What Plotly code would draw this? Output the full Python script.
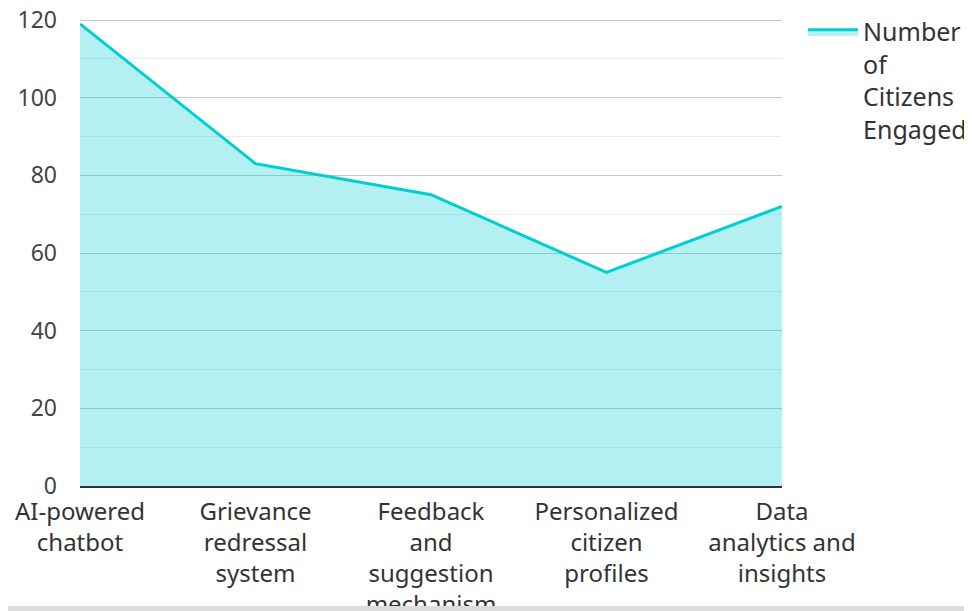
import plotly.graph_objects as go

categories = ["AI-powered<br>chatbot", "Grievance<br>redressal<br>system",
              "Feedback<br>and<br>suggestion<br>mechanism", "Personalized<br>citizen<br>profiles",
              "Data<br>analytics and<br>insights"]
citizens = [119, 83, 75, 55, 72]
series_name = "Number<br>of<br>Citizens<br>Engaged"
y_ticks = [0, 20, 40, 60, 80, 100, 120]

fig = go.Figure()
fig.add_trace(go.Scatter(
    x=categories, y=citizens, name=series_name, mode="lines",
    line=dict(color="#00CED1", width=3),
    fill="tozeroy", fillcolor="rgba(0,206,209,0.3)",
))

fig.update_layout(
    width=972, height=611,
    margin=dict(l=72, r=198, t=8, b=133, autoexpand=False),
    paper_bgcolor="white", plot_bgcolor="white",
    font=dict(family="Noto Sans, Open Sans, sans-serif", size=23, color="#444"),
    showlegend=True,
    legend=dict(x=1.03, y=1.015, xanchor="left", yanchor="top", valign="top",
                itemwidth=50,
                font=dict(size=25, color="#333"), bgcolor="rgba(0,0,0,0)"),
    xaxis=dict(range=[0, 4], showgrid=False, showline=True, linecolor="#333",
               linewidth=2, ticks="", automargin=False, ticklabelstandoff=3,
               tickfont=dict(size=24, color="#333")),
    yaxis=dict(range=[0, 121.03], tickvals=y_ticks, showgrid=True, gridcolor="#c8c8c8",
               gridwidth=1, zeroline=False, showline=False, automargin=False,
               ticklabeloverflow="allow",
               ticklabelstandoff=22, tickfont=dict(size=23, color="#444"),
               minor=dict(dtick=10, showgrid=True, gridcolor="#ebebeb", gridwidth=1)),
    shapes=[dict(type="rect", xref="paper", yref="paper", x0=-0.2, x1=1.3,
                 y0=-120 / 470, y1=-0.3, fillcolor="#dcdcdc", line=dict(width=0),
                 layer="above")],
)

fig.write_html("out.html")
